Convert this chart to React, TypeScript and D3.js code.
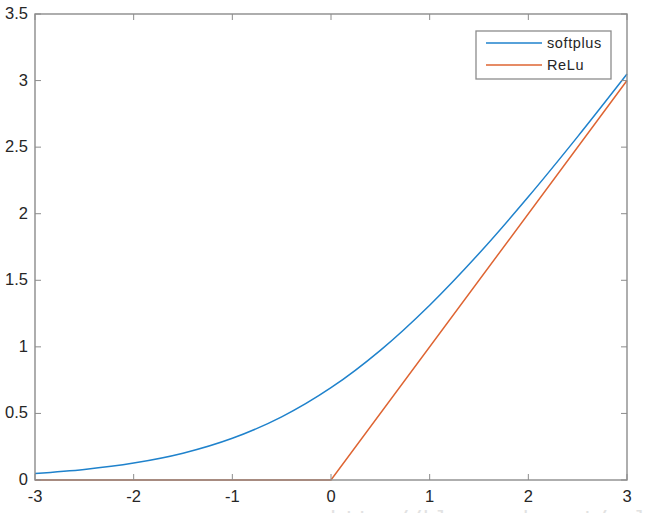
import React from "react";
import * as d3 from "d3";

const xTicks = [-3, -2, -1, 0, 1, 2, 3];
const yTicks = [0, 0.5, 1, 1.5, 2, 2.5, 3, 3.5];
const softX = [-3, -2.5, -2, -1.5, -1, -0.5, 0, 0.5, 1, 1.5, 2, 2.5, 3];
const softY = [0.049, 0.079, 0.127, 0.201, 0.313, 0.474, 0.693, 0.974, 1.313, 1.701, 2.127, 2.579, 3.049];
const reluX = [-3, 0, 3];
const reluY = [0, 0, 3];
const seriesNames = ["softplus", "ReLu"];
const colors = ["#1f82cc", "#de6432"];

const W = 651, H = 513;
const L = 35, R = 627, T = 14, B = 480;

export default function App() {
  const x = d3.scaleLinear().domain([-3, 3]).range([L, R]);
  const y = d3.scaleLinear().domain([0, 3.5]).range([B, T]);
  const line = d3.line<[number, number]>().x(d => x(d[0])).y(d => y(d[1]));
  const smooth = d3.line<[number, number]>().x(d => x(d[0])).y(d => y(d[1])).curve(d3.curveCatmullRom.alpha(0.5));
  const soft = softX.map((v, i) => [v, softY[i]] as [number, number]);
  const relu = reluX.map((v, i) => [v, reluY[i]] as [number, number]);
  const axisColor = "#8c8c8c";
  const textColor = "#262626";
  const font = "'Liberation Sans', Arial, sans-serif";
  const tl = 6;
  return (
    <svg width={W} height={H} style={{ position: "absolute", left: 0, top: 0, background: "#fff" }}>
      <rect x={0} y={0} width={W} height={H} fill="#fff" />
      <text x={330} y={526} fontFamily="'DejaVu Sans Mono', monospace" fontSize={22} fill="#e2e2e2">http://blog.csdn.net/sml</text>
      <path d={line(relu)!} fill="none" stroke={colors[1]} strokeWidth={1.5} />
      <path d={smooth(soft)!} fill="none" stroke={colors[0]} strokeWidth={1.5} />
      <rect x={L} y={T} width={R - L} height={B - T} fill="none" stroke={axisColor} strokeWidth={1.4} />
      {xTicks.map(t => (
        <g key={"x" + t}>
          <line x1={x(t)} x2={x(t)} y1={B} y2={B - tl} stroke={axisColor} />
          <line x1={x(t)} x2={x(t)} y1={T} y2={T + tl} stroke={axisColor} />
          <text x={x(t)} y={B + 22} textAnchor="middle" fontFamily={font} fontSize={16.5} fill={textColor}>{t}</text>
        </g>
      ))}
      {yTicks.map(t => (
        <g key={"y" + t}>
          <line x1={L} x2={L + tl} y1={y(t)} y2={y(t)} stroke={axisColor} />
          <line x1={R} x2={R - tl} y1={y(t)} y2={y(t)} stroke={axisColor} />
          <text x={L - 7} y={y(t) + 5} textAnchor="end" fontFamily={font} fontSize={16.5} fill={textColor}>{t}</text>
        </g>
      ))}
      <rect x={476} y={31} width={135} height={48} fill="#fff" stroke={axisColor} strokeWidth={1.3} />
      {seriesNames.map((n, i) => (
        <g key={n}>
          <line x1={486} x2={542} y1={43 + i * 22} y2={43 + i * 22} stroke={colors[i]} strokeWidth={1.5} />
          <text x={547} y={48 + i * 22} fontFamily={font} fontSize={14.5} letterSpacing={0.6} fill={textColor}>{n}</text>
        </g>
      ))}
    </svg>
  );
}
